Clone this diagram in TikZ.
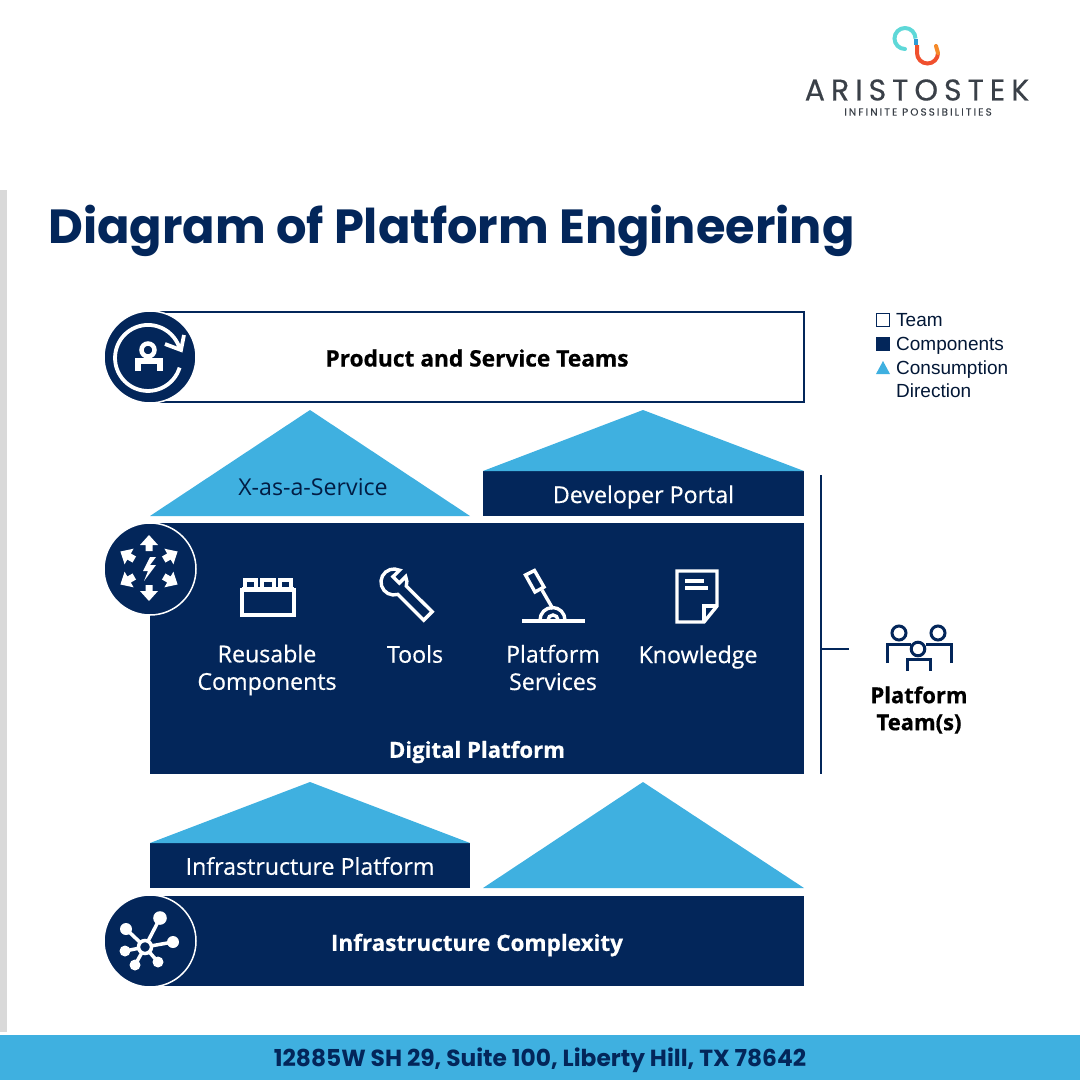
\documentclass[tikz,border=0pt]{standalone}
\usepackage{fontspec}
\setmainfont[BoldFeatures={FakeBold=0.6}]{Open Sans}
\newfontfamily\mediumfont[FakeBold=0.5]{Open Sans}
\newfontfamily\titlefont{Poppins}
\newfontfamily\logofont[LetterSpace=20,FakeBold=0.4]{Poppins}
\newfontfamily\tagfont[LetterSpace=20,FakeBold=0.2]{Poppins}
\newfontfamily\legendfont{Liberation Sans}
\usetikzlibrary{positioning,shapes.geometric}
\definecolor{navy}{HTML}{03265A}
\definecolor{skyblue}{HTML}{3FB0E0}
\definecolor{logoteal}{HTML}{5ED8D8}
\definecolor{logoblue}{HTML}{2E9BD6}
\definecolor{logored}{HTML}{F0502E}
\definecolor{logoorange}{HTML}{F58A2A}
\definecolor{logotext}{HTML}{3A4048}
\definecolor{stripgray}{HTML}{D9D9D9}
\begin{document}
\begin{tikzpicture}[x=1pt,y=-1pt,
  panel/.style={rectangle,fill=navy,inner sep=0pt,text=white},
  badge/.style={circle,fill=navy,draw=white,line width=1.5pt,minimum size=92pt,inner sep=0pt},
  roof/.style={fill=skyblue},
  icon/.style={draw=white,line width=3.4pt},
  wlabel/.style={text=white,font=\mediumfont\fontsize{23.2}{27.5}\selectfont,align=center},
  blabel/.style={font=\fontsize{22.7}{27}\selectfont\bfseries,align=center},
  legtext/.style={anchor=west,text=navy!60!black,inner sep=0pt,font=\legendfont\fontsize{19}{22}\selectfont}]
\useasboundingbox (0,0) rectangle (1080,1080);
\fill[stripgray] (0,190) rectangle (7,1032);
\node[rectangle,fill=skyblue,minimum width=1080pt,minimum height=45pt,inner sep=0pt] (addressbar) at (540,1057.5) {};
\node[text=navy,font=\titlefont\fontsize{23.3}{28}\selectfont\bfseries] (address) at (540,1060) {12885W SH 29, Suite 100, Liberty Hill, TX 78642};
\node[anchor=west,inner sep=0pt,text=navy,font=\titlefont\fontsize{47.9}{56}\selectfont\bfseries] (title) at (48,231) {Diagram of Platform Engineering};
% logo
\draw[logoteal,line width=4pt,line cap=round] (905,49) arc[start angle=90,end angle=270,radius=10.5];
\draw[logoteal,line width=4pt] (905,28) arc[start angle=270,end angle=360,radius=10.5];
\draw[logoblue,line width=4pt] (915.5,38.5) -- (915.5,45);
\draw[logored,line width=4pt] (917,45) -- (917,53) arc[start angle=180,end angle=0,radius=10.5];
\draw[logoorange,line width=4pt,line cap=round] (938,53) -- (936,46);
\node[text=logotext,font=\logofont\fontsize{30}{32}\selectfont] (logoname) at (917,90) {ARISTOSTEK};
\node[text=logotext,font=\tagfont\fontsize{10.4}{11}\selectfont] (logotag) at (918,112) {INFINITE POSSIBILITIES};
% panels
\node[rectangle,draw=navy,line width=1.3pt,minimum width=654pt,minimum height=90pt,inner sep=0pt] (product) at (477,357) {};
\node[blabel] (producttext) at (477,358) {Product and Service Teams};
\node[panel,minimum width=654pt,minimum height=251pt] (digital) at (477,648.5) {};
\node[panel,minimum width=654pt,minimum height=90pt] (complexity) at (477,941) {};
\node[panel,minimum width=321pt,minimum height=45pt] (portal) at (643.5,493.5) {};
\node[panel,minimum width=320pt,minimum height=45pt] (infra) at (310,865.5) {};
\fill[roof] (150,516) -- (470,516) -- (310,410) -- cycle;
\fill[roof] (483,471) -- (804,471) -- (643,410) -- cycle;
\fill[roof] (150,843) -- (470,843) -- (310,782) -- cycle;
\fill[roof] (483,888) -- (804,888) -- (643,782) -- cycle;
\node[font=\fontsize{23.2}{26}\selectfont,text=navy!75!black] (xaas) at (313,487) {X-as-a-Service};
\node[wlabel] (portaltext) at (643.5,497) {Developer Portal};
\node[wlabel] (infratext) at (310,866) {Infrastructure Platform};
\node[wlabel] (reusable) at (267,670) {Reusable\\Components};
\node[wlabel] (tools) at (415,654) {Tools};
\node[wlabel] (services) at (553,667.5) {Platform\\Services};
\node[wlabel] (knowledge) at (698,657) {Knowledge};
\node[blabel,text=white,font=\fontsize{22.2}{27}\selectfont\bfseries] (digitaltext) at (477,752) {Digital Platform};
\node[blabel,text=white,font=\fontsize{22.5}{27}\selectfont\bfseries] (complexitytext) at (477,945) {Infrastructure Complexity};
% badges
\node[badge] (teamsbadge) at (150,357) {};
\node[badge] (digitalbadge) at (150,569) {};
\node[badge] (complexbadge) at (150,941) {};
% badge icon team
\draw[icon,line width=3.8pt] (179.6,367.6) arc[start angle=17,end angle=342,radius=33];
\draw[icon,line width=3.8pt] (165,344) -- (181,350) -- (184,335);
\draw[icon,line width=4.5pt] (148,350) circle (6.5);
\draw[icon,line width=6pt] (138,371) -- (138,360.5) -- (160,360.5) -- (160,371);
% badge icon arrows
\foreach \ang in {30,90,...,330}
  \fill[white,shift={(149,568)},rotate=\ang] (17,-3.5) -- (23,-3.5) -- (23,-9) -- (33,0) -- (23,9) -- (23,3.5) -- (17,3.5) -- cycle;
\fill[white] (150,557) -- (143,571) -- (148,571) -- (144,581) -- (156,565) -- (150,565) -- (156,557) -- cycle;
% badge icon network
\draw[white,line width=3.5pt] (145,947) -- (160,918) (145,947) -- (126,929) (145,947) -- (173,942) (145,947) -- (125,951) (145,947) -- (135,965) (145,947) -- (158,962);
\fill[white] (160,918) circle (6.8) (126,929) circle (6) (173,942) circle (6) (125,951) circle (5.5) (135,965) circle (5.5) (158,962) circle (5.5);
\draw[white,fill=navy,line width=3.5pt] (145,947) circle (6.5);
% lego
\draw[icon] (242,590) rectangle (294,615);
\draw[icon] (245,590) -- (245,580) -- (256,580) -- (256,590);
\draw[icon] (262,590) -- (262,580) -- (274,580) -- (274,590);
\draw[icon] (280,590) -- (280,580) -- (291,580) -- (291,590);
\draw[white,line width=2pt] (242,587.5) -- (294,587.5);
% wrench
\draw[icon,shift={(394,582)},rotate=-45] (48,6) -- (11.5,6) arc[start angle=27.5,end angle=250,radius=13] -- (-4.5,-3) -- (4.5,-3) -- (4.5,-12) arc[start angle=290,end angle=332.5,radius=13] -- (48,-6) -- cycle;
% lever
\draw[white,line width=4.5pt] (522,621) -- (585,621);
\draw[icon] (540,620) arc[start angle=180,end angle=360,radius=12.5];
\draw[icon] (548,620) arc[start angle=180,end angle=360,radius=5];
\draw[icon] (553,609) -- (542,590);
\draw[icon] (525.5,575) -- (534.5,570.5) -- (544,587) -- (535,592) -- cycle;
% document
\draw[icon] (677,571) -- (717,571) -- (717,606) -- (704,622) -- (677,622) -- cycle;
\draw[icon] (704,622) -- (704,606) -- (717,606);
\draw[icon] (685,581) -- (704,581) (685,588) -- (708,588);
% legend
\node[rectangle,draw=navy,line width=1.8pt,minimum size=13pt,inner sep=0pt] (legteam) at (883,320) {};
\node[rectangle,fill=navy,minimum size=14pt,inner sep=0pt] (legcomp) at (883,344) {};
\fill[skyblue] (876,374) -- (890,374) -- (883,361) -- cycle;
\node[legtext] (legteamtext) at (896,320) {Team};
\node[legtext] (legcomptext) at (896,346) {Components};
\node[legtext] (legdirtext) at (896,369.5) {Consumption};
\node[legtext] (legdirtext2) at (896,391) {Direction};
% platform team
\coordinate (brtop) at (821,475);
\coordinate (brbot) at (821,774);
\coordinate (brmid) at (821,649);
\coordinate (brend) at (849,649);
\draw[navy,line width=1.3pt] (brtop) -- (brbot);
\draw[navy,line width=1.3pt] (brmid) -- (brend);
\draw[navy,line width=3pt] (899,633) circle (7) (938,633) circle (7) (918,649) circle (6.8);
\draw[navy,line width=3pt] (887,663) -- (887,644) -- (911,644);
\draw[navy,line width=3pt] (951,663) -- (951,644) -- (926,644);
\draw[navy,line width=3pt] (907,671) -- (907,659) -- (930,659) -- (930,671);
\node[blabel,text=black,font=\fontsize{22}{27}\selectfont\bfseries] (platformteam) at (919,710) {Platform\\Team(s)};
\end{tikzpicture}
\end{document}
